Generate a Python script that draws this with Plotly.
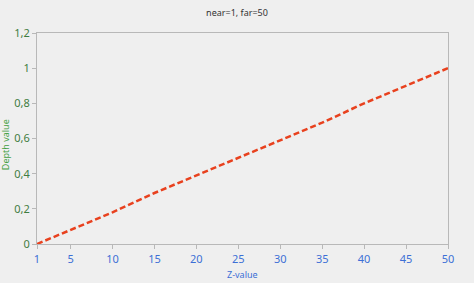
import plotly.graph_objects as go

z_values = [1, 5, 10, 15, 20, 25, 30, 35, 40, 45, 50]
depth_values = [0.0, 0.08, 0.18, 0.29, 0.39, 0.49, 0.59, 0.69, 0.80, 0.90, 1.0]
x_ticks = [1, 5, 10, 15, 20, 25, 30, 35, 40, 45, 50]
y_ticks = [0, 0.2, 0.4, 0.6, 0.8, 1.0, 1.2]
y_tick_labels = ["0", "0,2", "0,4", "0,6", "0,8", "1", "1,2"]

fig = go.Figure()
fig.add_trace(go.Scatter(x=z_values, y=depth_values, mode="lines",
                         line=dict(color="#e8411e", width=2.5, dash="6px,3px"),
                         showlegend=False))

fig.update_layout(
    width=474, height=283,
    margin=dict(l=37, r=26, t=33, b=39),
    paper_bgcolor="#efefef", plot_bgcolor="#efefef",
    font=dict(family="Noto Sans, sans-serif"),
    title=dict(text="near=1, far=50", x=0.5, xanchor="center", y=0.955, yanchor="middle",
               font=dict(size=9, color="#333333")),
    annotations=[
        dict(text="Z-value", xref="paper", yref="paper", x=0.5, y=-0.145,
             xanchor="center", yanchor="middle", showarrow=False,
             font=dict(size=9, color="#3d6fd6")),
        dict(text="Depth value", xref="paper", yref="paper", x=-0.077, y=0.47,
             xanchor="center", yanchor="middle", showarrow=False, textangle=-90,
             font=dict(size=9, color="#3fa03f")),
    ],
)
fig.update_xaxes(range=[1, 50], tickvals=x_ticks, ticktext=[str(v) for v in x_ticks],
                 automargin=False,
                 showgrid=False, zeroline=False, showline=True, linecolor="#b8b8b8", linewidth=1,
                 mirror=True, ticks="outside", ticklen=4, tickcolor="#b8b8b8",
                 ticklabelstandoff=1,
                 tickfont=dict(size=11, color="#3d6fd6"))
fig.update_yaxes(range=[0, 1.2], tickvals=y_ticks, ticktext=y_tick_labels,
                 automargin=False,
                 showgrid=False, zeroline=False, showline=True, linecolor="#b8b8b8", linewidth=1,
                 mirror=True, ticks="outside", ticklen=4, tickcolor="#b8b8b8",
                 tickfont=dict(size=11, color="#3f7d3f"))

fig.write_html("out.html")
